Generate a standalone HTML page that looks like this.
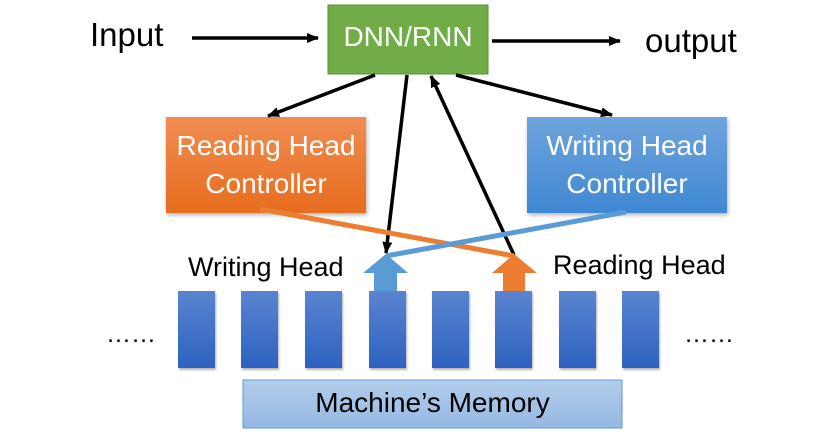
<!DOCTYPE html>
<html><head><style>
body{margin:0;width:837px;height:443px;background:#fff;overflow:hidden;position:relative;font-family:"Liberation Sans",sans-serif}
.t{position:absolute;white-space:nowrap}
.bar{position:absolute;top:291px;width:37px;height:77px;background:linear-gradient(#5a84cf,#2e62c0);box-shadow:1px 2px 2px rgba(0,0,0,.3)}
</style></head><body>
<svg width="837" height="443" style="position:absolute;left:0;top:0">
<defs><marker id="a" markerWidth="12" markerHeight="10" refX="11" refY="5" orient="auto" markerUnits="userSpaceOnUse" viewBox="0 0 12 10"><path d="M0,0 L12,5 L0,10 z" fill="#000"/></marker>
<linearGradient id="go" x1="0" y1="0" x2="0" y2="1"><stop offset="0" stop-color="#f08c52"/><stop offset="1" stop-color="#e76d1e"/></linearGradient>
<linearGradient id="gb" x1="0" y1="0" x2="0" y2="1"><stop offset="0" stop-color="#6fa4dc"/><stop offset="1" stop-color="#3f88d3"/></linearGradient>
<linearGradient id="gm" x1="0" y1="0" x2="0" y2="1"><stop offset="0" stop-color="#b3cdea"/><stop offset="1" stop-color="#95b9e3"/></linearGradient>
</defs>
<rect x="328" y="5" width="160" height="69" fill="#70ad47" stroke="#5a8f36"/>
<rect x="166" y="117" width="200" height="96" fill="url(#go)" style="filter:drop-shadow(1px 2px 2px rgba(0,0,0,.3))"/>
<rect x="527" y="117" width="200" height="96" fill="url(#gb)" style="filter:drop-shadow(1px 2px 2px rgba(0,0,0,.3))"/>
<rect x="243" y="380" width="379" height="48" fill="url(#gm)" stroke="#5b9bd5"/>
<g stroke="#000" stroke-width="3.5" fill="none">
<line x1="192" y1="38" x2="318" y2="38" marker-end="url(#a)"/>
<line x1="492" y1="41" x2="620" y2="41" marker-end="url(#a)"/>
<line x1="375" y1="75" x2="268" y2="116" marker-end="url(#a)"/>
<line x1="456" y1="75" x2="612" y2="115" marker-end="url(#a)"/>
<line x1="407" y1="75" x2="386" y2="253" marker-end="url(#a)"/>
<line x1="514" y1="255" x2="431" y2="76" marker-end="url(#a)"/>
</g>
<line x1="260" y1="209" x2="514" y2="256" stroke="#ed7d31" stroke-width="5"/>
<line x1="626" y1="212" x2="386" y2="256" stroke="#5b9bd5" stroke-width="5"/>
<path d="M386,254 L408,273 L397,273 L397,291 L374,291 L374,273 L363,273 z" fill="#5b9bd5"/>
<path d="M514,254 L537,273 L525,273 L525,291 L503,291 L503,273 L492,273 z" fill="#ed7d31"/>
</svg>
<div class="bar" style="left:178px"></div><div class="bar" style="left:241px"></div><div class="bar" style="left:305px"></div><div class="bar" style="left:369px"></div><div class="bar" style="left:432px"></div><div class="bar" style="left:495px"></div><div class="bar" style="left:559px"></div><div class="bar" style="left:622px"></div>
<div class="t" style="left:90px;top:16px;font-size:33px">Input</div>
<div class="t" style="left:645px;top:22px;font-size:33px">output</div>
<div class="t" style="left:328px;top:21px;width:160px;text-align:center;font-size:28px;color:#fff">DNN/RNN</div>
<div class="t" style="left:166px;top:127px;width:200px;text-align:center;font-size:28px;line-height:38px;color:#fff">Reading Head<br>Controller</div>
<div class="t" style="left:527px;top:127px;width:200px;text-align:center;font-size:28px;line-height:38px;color:#fff">Writing Head<br>Controller</div>
<div class="t" style="left:188px;top:252px;font-size:27px">Writing Head</div>
<div class="t" style="left:553px;top:250px;font-size:27px">Reading Head</div>
<div class="t" style="left:106px;top:320px;font-size:25px">……</div>
<div class="t" style="left:684px;top:320px;font-size:25px">……</div>
<div class="t" style="left:243px;top:387px;width:379px;text-align:center;font-size:28px">Machine’s Memory</div>
</body></html>
